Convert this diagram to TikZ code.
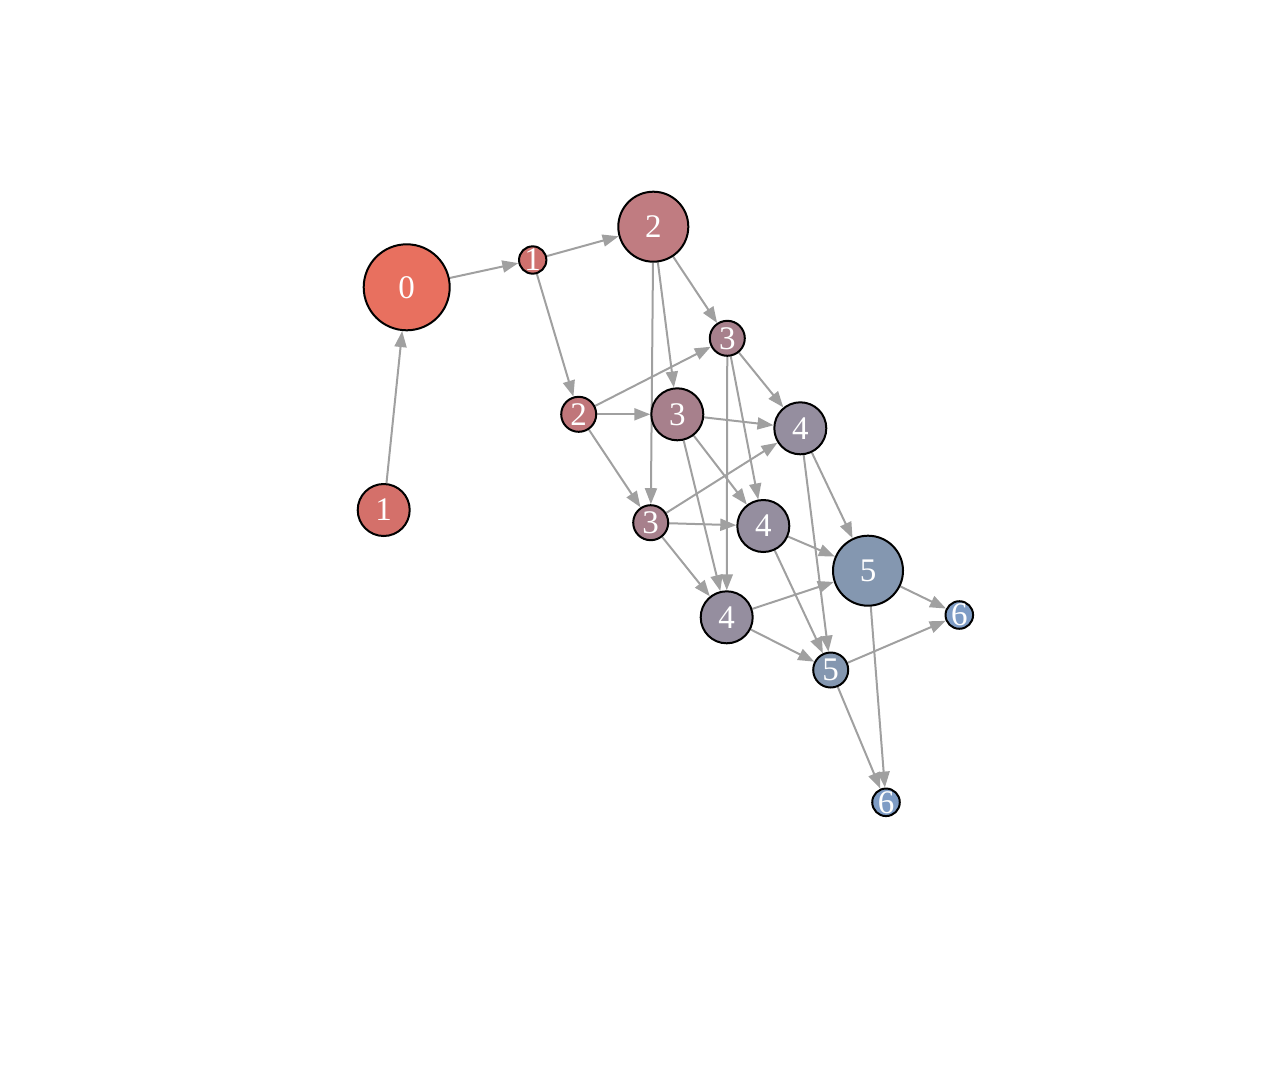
\documentclass[tikz,border=0pt]{standalone}
\usepackage{fontspec}
\setmainfont{Liberation Serif}
\usetikzlibrary{arrows.meta}
\definecolor{cA}{HTML}{E8705F}
\definecolor{cB}{HTML}{D4706A}
\definecolor{cC}{HTML}{CF716E}
\definecolor{cD}{HTML}{C07C81}
\definecolor{cE}{HTML}{C0767A}
\definecolor{cF}{HTML}{A7808C}
\definecolor{cG}{HTML}{958E9F}
\definecolor{cH}{HTML}{8497B0}
\definecolor{cI}{HTML}{7E9CC5}
\definecolor{edgegray}{HTML}{A0A0A0}
\tikzset{
  vtx/.style={circle, draw=black, line width=2pt, inner sep=0pt, text=white,
    font=\fontsize{33}{33}\selectfont},
  rA/.style={vtx, minimum size=86pt},
  rB/.style={vtx, minimum size=70pt},
  rC/.style={vtx, minimum size=52pt},
  rD/.style={vtx, minimum size=35pt},
  rE/.style={vtx, minimum size=18pt},
  arc/.style={draw=edgegray, line width=2pt, -{Triangle[length=16pt, width=12pt]}}
}
\begin{document}
\begin{tikzpicture}[x=1pt, y=-1pt]
\useasboundingbox (0,0) rectangle (1266,1068);
\pgfdeclarelayer{bg}
\pgfsetlayers{bg,main}
\node[rA, fill=cA] (n0) at (406.7,287.3) {0};
\node[rC, fill=cB] (n1) at (383.7,510) {1};
\node[rE, fill=cC] (nA) at (532.7,260) {1};
\node[rB, fill=cD] (n2a) at (653.3,226.7) {2};
\node[rD, fill=cE] (n2b) at (578.7,414.3) {2};
\node[rD, fill=cF] (n3a) at (727.3,338.3) {3};
\node[rC, fill=cF] (n3b) at (677.3,414.3) {3};
\node[rD, fill=cF] (n3c) at (650.7,522.7) {3};
\node[rC, fill=cG] (n4a) at (800.3,428.3) {4};
\node[rC, fill=cG] (n4b) at (763.3,526) {4};
\node[rC, fill=cG] (n4c) at (726.7,617.3) {4};
\node[rB, fill=cH] (n5a) at (868,570.7) {5};
\node[rD, fill=cH] (n5b) at (830.7,670) {5};
\node[rE, fill=cI] (n6a) at (959.3,615) {6};
\node[rE, fill=cI] (n6b) at (886,802.3) {6};
\begin{pgfonlayer}{bg}
\foreach \a/\b in {n1/n0, n0/nA, nA/n2a, nA/n2b,
  n2a/n3a, n2a/n3b, n2a/n3c, n2b/n3a, n2b/n3b, n2b/n3c,
  n3a/n4a, n3a/n4b, n3a/n4c, n3b/n4a, n3b/n4b, n3b/n4c, n3c/n4a, n3c/n4b, n3c/n4c,
  n4a/n5a, n4a/n5b, n4b/n5a, n4b/n5b, n4c/n5a, n4c/n5b,
  n5a/n6a, n5a/n6b, n5b/n6a, n5b/n6b}
  \draw[arc] (\a) -- (\b);
\end{pgfonlayer}
\end{tikzpicture}
\end{document}
